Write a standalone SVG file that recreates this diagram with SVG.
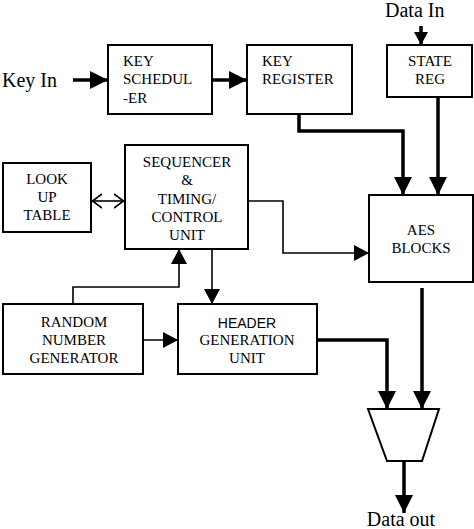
<svg xmlns="http://www.w3.org/2000/svg" width="474" height="529" viewBox="0 0 474 529">
<style>
.box{fill:#fff;stroke:#000;stroke-width:2}
text{font-family:'Liberation Serif','Times New Roman','DejaVu Serif',serif;font-size:15px;fill:#000}
.c{text-anchor:middle}
.big{font-size:20px}
.sans{font-family:'Liberation Sans',Arial,sans-serif;font-size:14px}
.thick{fill:none;stroke:#000;stroke-width:3.5}
.thin{fill:none;stroke:#000;stroke-width:1.6}
</style>
<defs>
<marker id="ab" markerUnits="userSpaceOnUse" markerWidth="18" markerHeight="18" refX="18" refY="9" orient="auto" viewBox="0 0 18 18"><path d="M0,0 L18,9 L0,18 z" fill="#000"/></marker>
<marker id="as" markerUnits="userSpaceOnUse" markerWidth="13" markerHeight="14" refX="13" refY="7" orient="auto" viewBox="0 0 13 14"><path d="M0,0 L13,7 L0,14 z" fill="#000"/></marker>
<marker id="am" markerUnits="userSpaceOnUse" markerWidth="15" markerHeight="16" refX="15" refY="8" orient="auto" viewBox="0 0 15 16"><path d="M0,0 L15,8 L0,16 z" fill="#000"/></marker>
<marker id="ao" markerUnits="userSpaceOnUse" markerWidth="11" markerHeight="16" refX="10" refY="8" orient="auto-start-reverse" viewBox="0 0 11 16"><path d="M0,1 L9.5,8 L0,15" fill="none" stroke="#000" stroke-width="1.6"/></marker>
</defs>

<g id="connectors">
<line class="thick" x1="73" y1="80" x2="108" y2="80" marker-end="url(#ab)"/>
<line class="thick" x1="212" y1="80" x2="247" y2="80" marker-end="url(#ab)"/>
<line class="thick" x1="421" y1="26" x2="421" y2="45" marker-end="url(#as)"/>
<polyline class="thick" points="299,114 299,131 403,131 403,195" marker-end="url(#ab)"/>
<line class="thick" x1="438" y1="97" x2="438" y2="195" marker-end="url(#ab)"/>
<line class="thin" x1="92" y1="201" x2="124" y2="201" marker-start="url(#ao)" marker-end="url(#ao)"/>
<polyline class="thin" points="248,201 283,201 283,253 369,253" marker-end="url(#am)"/>
<line class="thin" x1="212" y1="249" x2="212" y2="304" marker-end="url(#am)"/>
<polyline class="thin" points="73,304 73,287 179,287 179,249" marker-end="url(#am)"/>
<line class="thin" x1="143" y1="340" x2="178" y2="340" marker-end="url(#am)"/>
<polyline class="thick" points="317,340 387,340 387,409" marker-end="url(#ab)"/>
<line class="thick" x1="422" y1="288" x2="422" y2="409" marker-end="url(#ab)"/>
<line class="thick" x1="404" y1="461" x2="404" y2="513" marker-end="url(#ab)"/>
</g>

<text class="big" x="2" y="87">Key In</text>
<text class="big" x="385" y="17">Data In</text>
<text class="big c" x="401" y="526">Data out</text>

<g id="key-scheduler">
<rect class="box" x="108" y="45" width="104" height="69"/>
<text x="123" y="66">KEY</text>
<text x="123" y="84">SCHEDUL</text>
<text x="123" y="103">-ER</text>
</g>
<g id="key-register">
<rect class="box" x="247" y="45" width="105" height="69"/>
<text x="262" y="66">KEY</text>
<text x="262" y="84">REGISTER</text>
</g>
<g id="state-reg">
<rect class="box" x="387" y="45" width="85" height="52"/>
<text class="c" x="430" y="66">STATE</text>
<text class="c" x="430" y="84">REG</text>
</g>
<g id="look-up-table">
<rect class="box" x="3" y="163" width="88" height="69"/>
<text class="c" x="47" y="184">LOOK</text>
<text class="c" x="47" y="202">UP</text>
<text class="c" x="47" y="220">TABLE</text>
</g>
<g id="sequencer">
<rect class="box" x="125" y="145" width="123" height="104"/>
<text class="c" x="187" y="167">SEQUENCER</text>
<text class="c" x="187" y="185">&amp;</text>
<text class="c" x="187" y="204">TIMING/</text>
<text class="c" x="187" y="222">CONTROL</text>
<text class="c" x="187" y="240">UNIT</text>
</g>
<g id="aes-blocks">
<rect class="box" x="369" y="195" width="104" height="87"/>
<text class="c" x="421" y="235">AES</text>
<text class="c" x="421" y="253">BLOCKS</text>
</g>
<g id="random-number-generator">
<rect class="box" x="3" y="304" width="140" height="70"/>
<text class="c" x="74" y="327">RANDOM</text>
<text class="c" x="74" y="345">NUMBER</text>
<text class="c" x="74" y="363">GENERATOR</text>
</g>
<g id="header-generation-unit">
<rect class="box" x="178" y="304" width="139" height="70"/>
<text class="c sans" x="247" y="328">HEADER</text>
<text class="c" x="247" y="345">GENERATION</text>
<text class="c" x="247" y="363">UNIT</text>
</g>
<g id="mux">
<polygon class="box" points="368,409 439,409 422,461 387,461"/>
</g>
</svg>
